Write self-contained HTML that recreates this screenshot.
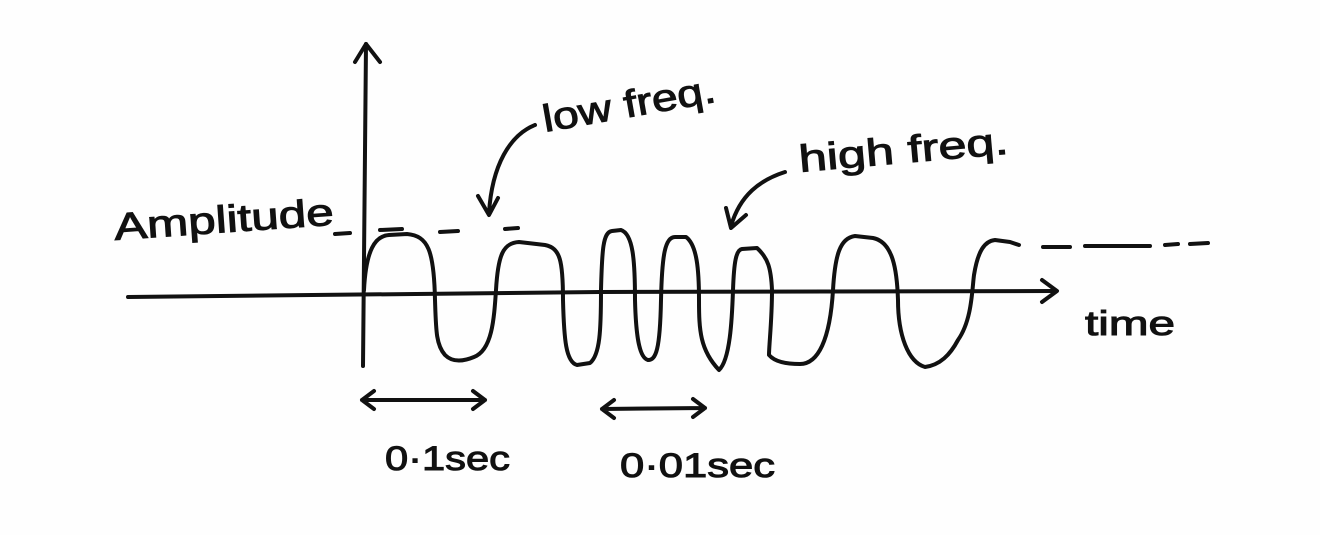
<!DOCTYPE html>
<html><head><meta charset="utf-8"><style>
html,body{margin:0;padding:0;background:#fff;}
svg{display:block}
text{font-family:"Liberation Sans",sans-serif;fill:#111;stroke:#111;stroke-width:1}
</style></head><body>
<svg width="1320" height="535" viewBox="0 0 1320 535" xmlns="http://www.w3.org/2000/svg">
<rect width="1320" height="535" fill="#fefefe"/>
<g fill="none" stroke="#111" stroke-width="4" stroke-linecap="round" stroke-linejoin="round">
<path d="M363 366 L366 44"/>
<path d="M355 62 L366 44 L380 62"/>
<path d="M128 297 L600 292 L1055 291"/>
<path d="M1042 280 L1057 291 L1042 302"/>
<path d="M335 234 L350 233 M380 230 L402 229 M440 232 L458 231 M505 229 L518 228"/>
<path d="M1043 247 L1070 247 M1085 246 L1150 246 M1165 245 L1178 244 M1190 244 L1208 243"/>
<path d="M364 290 C366 250 375 236 389 235 L407 234 C428 236 434 250 435 300 C436 330 436 345 445 355 C452 362 462 362 474 357 C492 350 494 320 496 290 C498 255 503 243 519 242 L545 245 C560 248 563 260 563 300 C564 340 566 362 577 365 L590 363 C600 355 601 330 601 290 C602 250 603 232 612 231 L621 230 C633 234 635 260 635 300 C636 340 640 358 648 360 C656 360 660 350 661 300 C662 255 665 237 675 237 L686 237 C697 245 699 270 699 300 C699 330 700 350 719 370 C730 360 732 320 733 290 C734 262 736 250 742 249 L757 248 C768 258 771 268 772 290 C772 320 769 345 769 355 C775 362 786 364 800 364 C818 364 830 340 833 290 C835 255 840 238 855 236 L873 238 C893 242 897 270 898 300 C898 335 908 362 925 367 C940 365 950 355 958 340 C972 320 972 290 974 275 C978 250 985 241 995 240 L1010 242 L1019 245"/>
<path d="M362 400 L485 400 M374 391 L362 400 L374 409 M473 391 L485 400 L473 409"/>
<path d="M602 409 L705 408 M614 400 L602 409 L614 418 M693 399 L705 408 L693 417"/>
<path d="M535 125 C510 135 492 165 489 213"/>
<path d="M478 196 L489 215 L498 198"/>
<path d="M785 172 C760 180 740 195 731 226"/>
<path d="M726 208 L731 228 L746 215"/>
</g>
<text x="115" y="240" font-size="38" textLength="220" lengthAdjust="spacingAndGlyphs" transform="rotate(-4 115 240)">Amplitude</text>
<text x="545" y="132" font-size="38" textLength="175" lengthAdjust="spacingAndGlyphs" transform="rotate(-10 545 132)">low freq.</text>
<text x="800" y="172" font-size="38" textLength="210" lengthAdjust="spacingAndGlyphs" transform="rotate(-5 800 172)">high freq.</text>
<text x="1085" y="335" font-size="34" textLength="90" lengthAdjust="spacingAndGlyphs">time</text>
<text x="385" y="470" font-size="34" textLength="125" lengthAdjust="spacingAndGlyphs">0·1sec</text>
<text x="620" y="477" font-size="34" textLength="155" lengthAdjust="spacingAndGlyphs">0·01sec</text>
</svg>
</body></html>
